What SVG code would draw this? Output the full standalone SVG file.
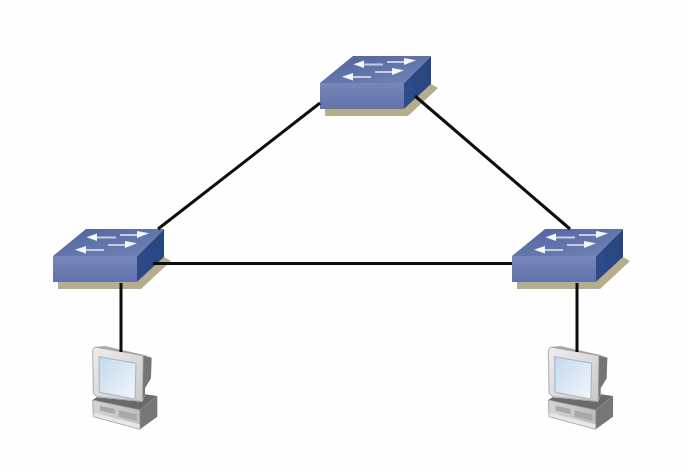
<svg xmlns="http://www.w3.org/2000/svg" width="685" height="472" viewBox="0 0 685 472">
<style>
.link{stroke:#0d0d0d;stroke-width:3;fill:none;stroke-linecap:butt}
.shadow{fill:#b5ad8c}
.arrow{fill:#f4f7fc}
.shaft{stroke:#c4cde2;stroke-width:2;fill:none}
</style>
<defs>
<linearGradient id="swFront" x1="0" y1="0" x2="0" y2="1"><stop offset="0" stop-color="#7787ba"/><stop offset="1" stop-color="#6172aa"/></linearGradient>
<linearGradient id="swTop" x1="0" y1="0" x2="1" y2="1"><stop offset="0" stop-color="#4f639f"/><stop offset="1" stop-color="#7484b6"/></linearGradient>
<linearGradient id="swSide" x1="0" y1="0" x2="1" y2="0"><stop offset="0" stop-color="#2f4c88"/><stop offset="1" stop-color="#27457f"/></linearGradient>
<linearGradient id="scr" x1="0" y1="0" x2="1" y2="1"><stop offset="0" stop-color="#c2d9ee"/><stop offset="1" stop-color="#f2f6fa"/></linearGradient>
<linearGradient id="bez" x1="0" y1="0" x2="1" y2="1"><stop offset="0" stop-color="#eeeeee"/><stop offset="1" stop-color="#c8c8c8"/></linearGradient>
<linearGradient id="bas" x1="0" y1="0" x2="1" y2="0"><stop offset="0" stop-color="#d4d4d4"/><stop offset="1" stop-color="#bdbdbd"/></linearGradient>
<filter id="soft" x="-5%" y="-5%" width="110%" height="110%"><feGaussianBlur stdDeviation="0.55"/></filter>
<g id="switch" filter="url(#soft)">
<polygon class="shadow" points="325,109 404,109 431,84 438,88 408,116 325,116"/>
<polygon fill="url(#swTop)" points="353,56 431,56 404,83 320,83"/>
<polygon fill="url(#swFront)" points="320,83 404,83 404,109 320,109"/>
<polygon fill="url(#swSide)" points="404,83 431,56 431,84 404,109"/>
<path class="shaft" d="M362,64.500H383M387,62H406M375,72H394M351,77H371"/>
<polygon class="arrow" points="353.500,64.300 364,60.500 364,68"/>
<polygon class="arrow" points="416,60.300 404,58 404,65"/>
<polygon class="arrow" points="404,70.300 392,68 392,75"/>
<polygon class="arrow" points="342,76.800 353,73 353,80.500"/>
</g>
<g id="computer" filter="url(#soft)">
<g transform="translate(80,335) scale(0.3333)">
<polygon fill="#767676" points="180,225 232,183 232,245 180,283"/>
<polygon fill="#6a6a6a" points="38,195 50,187 188,200 195,178 232,183 180,225"/>
<polygon fill="url(#bas)" stroke="#8c8c8c" stroke-width="2" points="38,195 180,225 180,283 40,245"/>
<polygon fill="#e6e6e6" points="41,233 179,268 179,281 41,244"/>
<polygon fill="#a8a8a8" points="60,212 105,222 105,237 60,227"/>
<polygon fill="#a8a8a8" points="116,226 170,238 170,257 116,245"/>
<polygon fill="#747474" points="185,60 215,68 213,130 195,160 195,178 188,200"/>
<polygon fill="#a8a8a8" points="45,36 75,33 215,65 190,62"/>
<polygon fill="url(#bez)" stroke="#8a8a8a" stroke-width="2" points="38,45 45,36 190,62 188,200 50,185 40,175"/>
<polygon fill="url(#scr)" stroke="#8f9aa6" stroke-width="2" points="57,65 168,85 165,192 58,172"/>
</g>
</g>
</defs>
<rect width="685" height="472" fill="#fefefe"/>
<g id="switch-top"><use href="#switch"/></g>
<g id="switch-left"><use href="#switch" transform="translate(-267,173)"/></g>
<g id="switch-right"><use href="#switch" transform="translate(192,173)"/></g>
<g id="computer-left"><use href="#computer"/></g>
<g id="computer-right"><use href="#computer" transform="translate(455.700,0)"/></g>
<g id="connectors">
<path class="link" d="M320,103L158,229"/>
<path class="link" d="M415,96L570,229"/>
<path class="link" d="M153,263.500H512"/>
<path class="link" d="M121,283V352"/>
<path class="link" d="M577,283V352"/>
</g>
</svg>
